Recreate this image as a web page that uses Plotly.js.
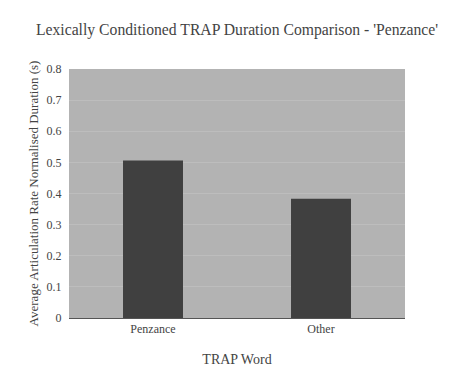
<!DOCTYPE html>
<html>
<head>
<meta charset="utf-8">
<script src="https://cdn.plot.ly/plotly-3.0.1.min.js"></script>
<style>html,body{margin:0;padding:0;background:#fff;}#chart{width:474px;height:387px;}</style>
</head>
<body>
<div id="chart"></div>
<script>
const categories = ["Penzance", "Other"];
const durations = [0.506, 0.383];
const yTickVals = [0, 0.1, 0.2, 0.3, 0.4, 0.5, 0.6, 0.7, 0.8];
const yTickText = ["0", "0.1", "0.2", "0.3", "0.4", "0.5", "0.6", "0.7", "0.8"];

const font = "Liberation Serif";
Plotly.newPlot("chart", [{
  type: "bar",
  x: categories,
  y: durations,
  marker: {color: "#404040"},
  hoverinfo: "none"
}], {
  width: 474, height: 387,
  margin: {l: 69, r: 69, t: 69, b: 69},
  paper_bgcolor: "#ffffff",
  plot_bgcolor: "#b3b3b3",
  bargap: 0.643,
  font: {family: font, color: "#444444", size: 12},
  title: {text: "Lexically Conditioned TRAP Duration Comparison - 'Penzance'", font: {family: font, size: 15.7, color: "#444444"}, x: 0.5, y: 0.925, xanchor: "center", yanchor: "middle"},
  xaxis: {
    title: {text: "TRAP Word", font: {family: font, size: 14, color: "#444444"}, standoff: 18},
    automargin: true,
    showline: true, linecolor: "#555555", linewidth: 1,
    ticks: "", 
    tickfont: {family: font, size: 12, color: "#444444"}
  },
  yaxis: {
    title: {text: "Average Articulation Rate Normalised Duration (s)", font: {family: font, size: 13, color: "#444444"}, standoff: 5},
    automargin: true,
    range: [0, 0.8], tickvals: yTickVals, ticktext: yTickText,
    gridcolor: "#bdbdbd", zeroline: false, showline: false,
    ticks: "outside", ticklen: 4, tickcolor: "rgba(0,0,0,0)",
    tickfont: {family: font, size: 12, color: "#444444"}
  },
  showlegend: false
}, {staticPlot: true});
</script>
</body>
</html>
